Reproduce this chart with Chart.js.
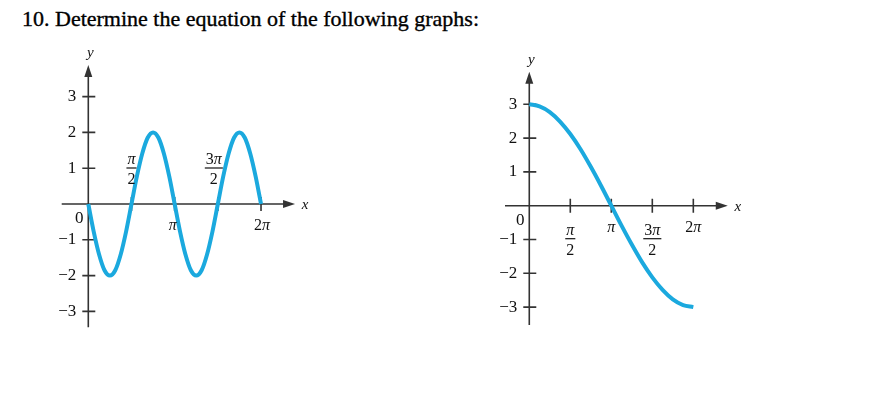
<!DOCTYPE html>
<html>
<head>
<meta charset="utf-8">
<script src="https://cdn.jsdelivr.net/npm/chart.js@4.4.0/dist/chart.umd.min.js"></script>
<style>
  body { margin: 0; background: #fff; width: 879px; height: 400px; position: relative; overflow: hidden; }
  #title { position: absolute; left: 22px; top: 6px; font: 22px "Liberation Serif", serif; color: #000; white-space: nowrap; -webkit-text-stroke: 0.35px #000; }
  canvas { position: absolute; }
</style>
</head>
<body>
<div id="title">10. Determine the equation of the following graphs:</div>
<canvas id="leftGraph" width="270" height="290" style="left:50px;top:45px"></canvas>
<canvas id="rightGraph" width="270" height="290" style="left:490px;top:45px"></canvas>
<script>
// x values are in multiples of π
const leftX = [0, 0.0625, 0.125, 0.1875, 0.25, 0.3125, 0.375, 0.4375, 0.5,
  0.5625, 0.625, 0.6875, 0.75, 0.8125, 0.875, 0.9375, 1,
  1.0625, 1.125, 1.1875, 1.25, 1.3125, 1.375, 1.4375, 1.5,
  1.5625, 1.625, 1.6875, 1.75, 1.8125, 1.875, 1.9375, 2];
const leftY = [0, -0.77, -1.41, -1.85, -2, -1.85, -1.41, -0.77, 0,
  0.77, 1.41, 1.85, 2, 1.85, 1.41, 0.77, 0,
  -0.77, -1.41, -1.85, -2, -1.85, -1.41, -0.77, 0,
  0.77, 1.41, 1.85, 2, 1.85, 1.41, 0.77, 0];

const rightX = [0, 0.125, 0.25, 0.375, 0.5, 0.625, 0.75, 0.875, 1,
  1.125, 1.25, 1.375, 1.5, 1.625, 1.75, 1.875, 2];
const rightY = [3, 2.94, 2.77, 2.49, 2.12, 1.67, 1.15, 0.59, 0,
  -0.59, -1.15, -1.67, -2.12, -2.49, -2.77, -2.94, -3];

const yTicks = [-3, -2, -1, 1, 2, 3];
const piTicks = [0.5, 1, 1.5, 2];
const piLabels = [["π", "2"], "π", ["3π", "2"], "2π"];

const CURVE = "#1ba9de";
const AXIS = "#333";
const SERIF = '"Liberation Serif", serif';

// draws text like "3π" with the π in italics, centred on cx
function piText(ctx, s, cx, base, size) {
  const parts = s.split(/(π)/).filter(p => p.length);
  const fonts = parts.map(p => (p === "π" ? "italic " : "") + size + "px " + SERIF);
  let total = 0;
  const widths = parts.map((p, i) => { ctx.font = fonts[i]; const w = ctx.measureText(p).width; total += w; return w; });
  let xx = cx - total / 2;
  ctx.textAlign = "left";
  ctx.textBaseline = "alphabetic";
  parts.forEach((p, i) => { ctx.font = fonts[i]; ctx.fillText(p, xx, base); xx += widths[i]; });
  return total;
}

function fraction(ctx, num, den, cx, barY, size) {
  ctx.font = size + "px " + SERIF;
  const w = Math.max(ctx.measureText(num).width, ctx.measureText(den).width) + 2;
  piText(ctx, num, cx, barY - 4, size);
  piText(ctx, den, cx, barY + 16, size);
  ctx.lineWidth = 1.2;
  ctx.beginPath();
  ctx.moveTo(cx - w / 2, barY);
  ctx.lineTo(cx + w / 2, barY);
  ctx.stroke();
}

const mathAxes = {
  id: "mathAxes",
  beforeDatasetsDraw(chart, args, o) {
    const { ctx, scales: { x, y } } = chart;
    const ox = x.getPixelForValue(0), oy = y.getPixelForValue(0);
    const xa = x.getPixelForValue(o.xFrom), xb = x.getPixelForValue(o.xTo);
    const ya = y.getPixelForValue(o.yFrom), yb = y.getPixelForValue(o.yTo);
    ctx.save();
    ctx.strokeStyle = AXIS;
    ctx.fillStyle = AXIS;
    ctx.lineWidth = 1.6;
    ctx.beginPath();
    ctx.moveTo(xa, oy); ctx.lineTo(xb - 8, oy);
    ctx.moveTo(ox, ya); ctx.lineTo(ox, yb + 8);
    piTicks.forEach(v => { const px = x.getPixelForValue(v); ctx.moveTo(px, oy - 7); ctx.lineTo(px, oy + 7); });
    yTicks.forEach(v => { const py = y.getPixelForValue(v); ctx.moveTo(ox - 6, py); ctx.lineTo(ox + 7, py); });
    ctx.stroke();
    // arrow heads
    ctx.beginPath();
    ctx.moveTo(xb, oy); ctx.lineTo(xb - 12, oy - 4); ctx.lineTo(xb - 12, oy + 4); ctx.closePath();
    ctx.moveTo(ox, yb); ctx.lineTo(ox - 4, yb + 12); ctx.lineTo(ox + 4, yb + 12); ctx.closePath();
    ctx.fill();
    ctx.restore();
  },
  afterDatasetsDraw(chart, args, o) {
    const { ctx, scales: { x, y } } = chart;
    const ox = x.getPixelForValue(0), oy = y.getPixelForValue(0);
    const xb = x.getPixelForValue(o.xTo), yb = y.getPixelForValue(o.yTo);
    ctx.save();
    ctx.fillStyle = "#111";
    ctx.strokeStyle = "#111";
    ctx.font = "17px " + SERIF;
    ctx.textAlign = "right";
    ctx.textBaseline = "middle";
    yTicks.forEach(v => ctx.fillText(v < 0 ? "\u2212" + (-v) : String(v), ox - 12, y.getPixelForValue(v)));
    ctx.textAlign = "center";
    ctx.fillText("0", ox - 9, oy + 15);

    piTicks.forEach((v, i) => {
      const px = x.getPixelForValue(v) + (o.labelShift[i] || 0);
      const lab = piLabels[i];
      if (Array.isArray(lab)) {
        const bar = o.above[i] ? oy - 36 : oy + 33;
        fraction(ctx, lab[0], lab[1], px, bar, 16);
      } else {
        piText(ctx, lab, px, oy + 26, 16);
      }
    });

    ctx.font = "italic 15px " + SERIF;
    ctx.textAlign = "center";
    ctx.textBaseline = "middle";
    ctx.fillText("x", xb + 10, oy + 1);
    ctx.fillText("y", ox + 2, yb - 12);
    ctx.restore();
  }
};

function makeGraph(id, xs, ys, xr, yr, axisOpts) {
  return new Chart(document.getElementById(id), {
    type: "line",
    data: {
      datasets: [{
        data: xs.map((v, i) => ({ x: v, y: ys[i] })),
        borderColor: CURVE,
        borderWidth: 4,
        pointRadius: 0,
        cubicInterpolationMode: "monotone",
        fill: false,
      }],
    },
    options: {
      responsive: false,
      animation: false,
      devicePixelRatio: 1,
      layout: { padding: 0 },
      scales: {
        x: { type: "linear", min: xr[0], max: xr[1], display: false },
        y: { type: "linear", min: yr[0], max: yr[1], display: false },
      },
      plugins: {
        legend: { display: false },
        tooltip: { enabled: false },
        mathAxes: axisOpts,
      },
    },
    plugins: [mathAxes],
  });
}

function drawAll() {
  makeGraph("leftGraph", leftX, leftY, [-0.4435, 2.683], [-3.659, 4.441], {
    xFrom: -0.308, xTo: 2.394, yFrom: -3.44, yTo: 3.88,
    above: [true, false, true, false],
    labelShift: [0, -2, -4, 1],
  });
  makeGraph("rightGraph", rightX, rightY, [-0.479, 2.813], [-3.825, 4.754], {
    xFrom: -0.296, xTo: 2.42, yFrom: -3.53, yTo: 3.96,
    above: [false, false, false, false],
    labelShift: [0, 0, 0, 0],
  });
}

// make sure the serif face is ready before the canvases use it
Promise.all([
  document.fonts.load('17px "Liberation Serif"', "0123π"),
  document.fonts.load('italic 15px "Liberation Serif"', "xyπ"),
]).then(drawAll, drawAll);
</script>
</body>
</html>
